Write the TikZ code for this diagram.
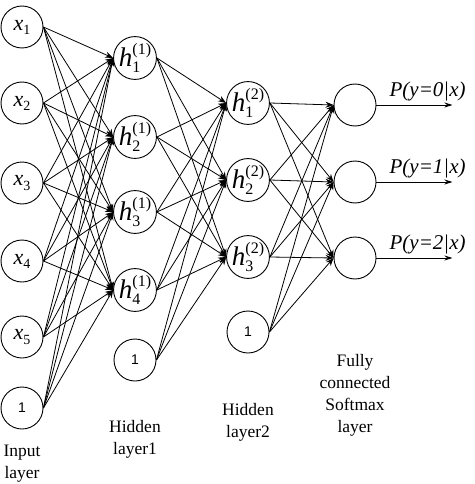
\documentclass[tikz,border=0pt]{standalone}
\usepackage{fontspec}
\setmainfont{Liberation Serif}
\setsansfont{Liberation Sans}
\usetikzlibrary{arrows.meta}
\def\xlab#1{\textit{x}\raisebox{-0.4ex}{\fontsize{14}{14}\selectfont #1}}
\def\hlab#1#2{\fontsize{27}{27}\selectfont\textit{h}\rlap{\raisebox{-0.45ex}{\fontsize{16}{16}\selectfont #1}}\raisebox{0.95ex}{\fontsize{16}{16}\selectfont(#2)}}
\tikzset{
  neuron/.style={draw, circle, line width=0.9pt, minimum size=42pt, inner sep=0pt},
  wire/.style={line width=0.8pt, -{Stealth[length=8pt,width=6pt]}},
  caption/.style={align=center, font=\fontsize{17.5}{22}\selectfont}
}
\begin{document}
\begin{tikzpicture}[x=1pt,y=-1pt]
			\useasboundingbox (0,0) rectangle (474,484);
			%%%%% INPUT LAYER %%%%%
			\node[neuron,font=\fontsize{22}{22}\selectfont] (in1) at (22, 27) {\xlab{1}};
			\node[neuron,font=\fontsize{22}{22}\selectfont] (in2) at (22, 103) {\xlab{2}};
			\node[neuron,font=\fontsize{22}{22}\selectfont] (in3) at (22, 183) {\xlab{3}};
			\node[neuron,font=\fontsize{22}{22}\selectfont] (in4) at (22, 261) {\xlab{4}};
			\node[neuron,font=\fontsize{22}{22}\selectfont] (in5) at (22, 337) {\xlab{5}};
			\node[neuron,font=\sffamily\fontsize{14}{14}\selectfont] (in6) at (22, 408) {1};
			
			%%%%% HIDDEN LAYER 1 %%%%%
			\node[neuron] (ha1) at (135, 58) {\hlab{1}{1}};
			\node[neuron] (ha2) at (135, 137) {\hlab{2}{1}};
			\node[neuron] (ha3) at (135, 212) {\hlab{3}{1}};
			\node[neuron] (ha4) at (135, 290) {\hlab{4}{1}};
			\node[neuron,font=\sffamily\fontsize{14}{14}\selectfont] (ha5) at (135, 360) {1};
			
			%%%%% HIDDEN LAYER 2 %%%%%
			\node[neuron] (hb1) at (248, 103) {\hlab{1}{2}};
			\node[neuron] (hb2) at (248, 180) {\hlab{2}{2}};
			\node[neuron] (hb3) at (248, 257) {\hlab{3}{2}};
			\node[neuron,font=\sffamily\fontsize{14}{14}\selectfont] (hb4) at (248, 332) {1};
			
			%%%%% SOFTMAX LAYER %%%%%
			\node[neuron] (sm1) at (355, 105) {};
			\node[neuron] (sm2) at (355, 182) {};
			\node[neuron] (sm3) at (355, 258) {};
			
			%%%%% WEIGHTS %%%%%
			\foreach \i in {1,...,6}
			  \foreach \j in {1,...,4}
			    \draw[wire] (in\i.east) -- (ha\j.west);
			\foreach \i in {1,...,5}
			  \foreach \j in {1,...,3}
			    \draw[wire] (ha\i.east) -- (hb\j.west);
			\foreach \i in {1,...,4}
			  \foreach \j in {1,...,3}
			    \draw[wire] (hb\i.east) -- (sm\j.west);
			
			%%%%% OUTPUTS %%%%%
			\foreach \k/\v in {1/0,2/1,3/2}{
			  \coordinate (out\k) at ([xshift=76pt]sm\k.east);
			  \draw[line width=0.8pt, -{Stealth[length=8pt,width=5pt]}] (sm\k.east) -- (out\k);
			  \node[anchor=south west, inner sep=0pt, font=\fontsize{21}{21}\selectfont\itshape] (p\k) at ([xshift=13pt,yshift=4pt]sm\k.east) {P(y=\v|x)};
			}
			
			%%%%% CAPTIONS %%%%%
			\node[caption] (capin) at (22, 464) {Input\\layer};
			\node[caption] (capha) at (135, 439) {Hidden\\layer1};
			\node[caption] (caphb) at (248, 422) {Hidden\\layer2};
			\node[caption] (capsm) at (355, 395) {Fully\\connected\\Softmax\\layer};
\end{tikzpicture}
\end{document}
